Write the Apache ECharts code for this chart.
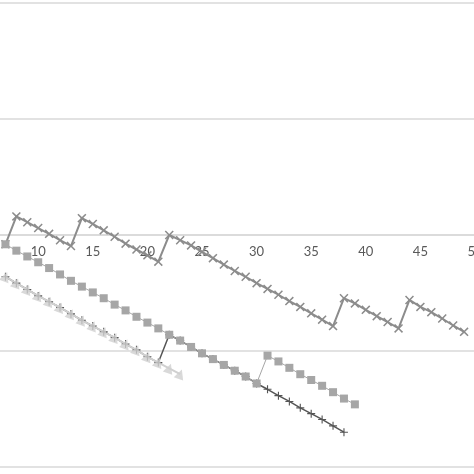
<!DOCTYPE html>
<html>
<head>
<meta charset="utf-8">
<script src="https://cdn.jsdelivr.net/npm/echarts@6/dist/echarts.min.js"></script>
<style>html,body{margin:0;padding:0;background:#fff;}#c{width:474px;height:474px;}</style>
</head>
<body>
<div id="c"></div>
<script>
// x tick labels every 5 units
const xTicks = [0, 5, 10, 15, 20, 25, 30, 35, 40, 45, 50];

// cross-marker sawtooth series
const crossData = [
  [7,-1.6],[8,3.2],[9,2.2],[10,1.2],[11,0.2],[12,-0.9],[13,-1.9],
  [14,2.9],[15,1.9],[16,0.8],[17,-0.3],[18,-1.5],[19,-2.5],[20,-3.5],[21,-4.6],
  [22,0],[23,-0.9],[24,-1.8],[25,-2.9],[26,-4.0],[27,-5.1],[28,-6.2],[29,-7.2],
  [30,-8.3],[31,-9.3],[32,-10.3],[33,-11.4],[34,-12.4],[35,-13.5],[36,-14.6],[37,-15.7],
  [38,-10.9],[39,-11.8],[40,-12.9],[41,-14.0],[42,-15.0],[43,-16.1],
  [44,-11.2],[45,-12.4],[46,-13.3],[47,-14.4],[48,-15.6],[49,-16.7]
];

// square-marker series
const squareData = [
  [7,-1.6],[8,-2.7],[9,-3.7],[10,-4.7],[11,-5.7],[12,-6.8],[13,-7.9],[14,-8.9],
  [15,-9.9],[16,-10.9],[17,-12.0],[18,-13.0],[19,-14.1],[20,-15.1],[21,-16.1],
  [22,-17.2],[23,-18.2],[24,-19.3],[25,-20.4],[26,-21.4],[27,-22.4],[28,-23.4],
  [29,-24.4],[30,-25.6],
  [31,-20.8],[32,-21.8],[33,-22.9],[34,-24.0],[35,-25.0],[36,-26.0],[37,-27.1],
  [38,-28.2],[39,-29.2]
];

// triangle-marker series
const triangleData = [
  [7,-7.2],[8,-8.3],[9,-9.4],[10,-10.5],[11,-11.5],[12,-12.5],[13,-13.6],[14,-14.7],
  [15,-15.7],[16,-16.7],[17,-17.7],[18,-18.8],[19,-19.8],[20,-21.0],[21,-22.0],
  [22,-23.0],[23,-24.0]
];

// plus-marker series (runs under triangles, then squares, then alone)
const plusData = [
  [7,-7.2],[8,-8.3],[9,-9.4],[10,-10.5],[11,-11.5],[12,-12.5],[13,-13.6],[14,-14.7],
  [15,-15.7],[16,-16.7],[17,-17.7],[18,-18.8],[19,-19.8],[20,-21.0],[21,-22.0],
  [22,-17.2],[23,-18.2],[24,-19.3],[25,-20.4],[26,-21.4],[27,-22.4],[28,-23.4],
  [29,-24.4],[30,-25.6],
  [31,-26.6],[32,-27.7],[33,-28.7],[34,-29.8],[35,-30.8],[36,-31.8],[37,-32.9],[38,-34.0]
];

const X_SYMBOL = 'path://M0,1.2L1.2,0L5,3.8L8.8,0L10,1.2L6.2,5L10,8.8L8.8,10L5,6.2L1.2,10L0,8.8L3.8,5Z';
const PLUS_SYMBOL = 'path://M4.3,0H5.7V4.3H10V5.7H5.7V10H4.3V5.7H0V4.3H4.3Z';

const chart = echarts.init(document.getElementById('c'), null, {renderer: 'canvas'});
chart.setOption({
  animation: false,
  backgroundColor: '#ffffff',
  grid: { left: -71, top: 3, width: 546, height: 464, containLabel: false, outerBoundsMode: 'none' },
  xAxis: {
    type: 'value',
    position: 'bottom',
    offset: -232,
    min: xTicks[0],
    max: xTicks[xTicks.length - 1],
    interval: 5,
    axisLine: { show: true, onZero: false, lineStyle: { color: '#d9d9d9', width: 1.5 } },
    axisTick: { show: false },
    splitLine: { show: false },
    axisLabel: { color: '#595959', fontSize: 13, fontFamily: 'Lato', margin: 10, hideOverlap: false }
  },
  yAxis: {
    type: 'value',
    min: -40, max: 40, interval: 20,
    axisLine: { show: false },
    axisTick: { show: false },
    axisLabel: { show: false },
    splitLine: { show: true, lineStyle: { color: '#d9d9d9', width: 1.5 } }
  },
  series: [
    {
      name: 'plus', type: 'line', data: plusData,
      symbol: PLUS_SYMBOL, symbolSize: 8, showAllSymbol: true,
      lineStyle: { color: '#555555', width: 1.5 },
      itemStyle: { color: '#555555' }
    },
    {
      name: 'triangle', type: 'line', data: triangleData,
      symbol: 'triangle', symbolSize: 10, symbolRotate: -20, showAllSymbol: true,
      lineStyle: { color: '#d0d0d0', width: 2 },
      itemStyle: { color: '#cfcfcf', opacity: 0.8 }
    },
    {
      name: 'cross', type: 'line', data: crossData,
      symbol: X_SYMBOL, symbolSize: 9, showAllSymbol: true,
      lineStyle: { color: '#8c8c8c', width: 2 },
      itemStyle: { color: '#8c8c8c' }
    },
    {
      name: 'square', type: 'line', data: squareData,
      symbol: 'rect', symbolSize: 8, showAllSymbol: true,
      lineStyle: { color: '#a6a6a6', width: 1 },
      itemStyle: { color: '#a6a6a6' }
    }
  ]
});
</script>
</body>
</html>
